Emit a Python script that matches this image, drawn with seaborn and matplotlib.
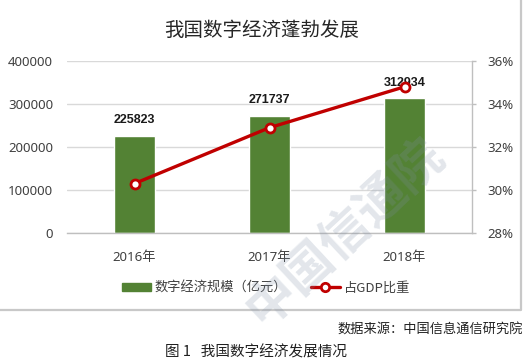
import matplotlib
matplotlib.use("Agg")
import matplotlib.pyplot as plt
import seaborn as sns
import pandas as pd
import numpy as np
from matplotlib.patches import Patch
from matplotlib.lines import Line2D

# ---- data ----
years = ["2016年", "2017年", "2018年"]
scale = [225823, 271737, 312934]          # 数字经济规模（亿元）
gdp_share = [30.3, 32.9, 34.8]            # 占GDP比重 (%)
left_ticks = [0, 100000, 200000, 300000, 400000]
right_ticks = [28, 30, 32, 34, 36]

title = "我国数字经济蓬勃发展"
bar_label = "数字经济规模（亿元）"
line_label = "占GDP比重"
source = "数据来源：中国信息通信研究院"
caption = "图 1   我国数字经济发展情况"
watermark = "中国信通院"

df = pd.DataFrame({"year": years, "scale": scale, "share": gdp_share})

sns.set_theme(style="white")
plt.rcParams["font.family"] = ["Noto Sans", "Noto Sans CJK SC", "DejaVu Sans"]
CJK = ["Noto Sans CJK SC", "DejaVu Sans"]

W, H = 532, 363
fig = plt.figure(figsize=(W / 100, H / 100), dpi=100)
fig.patch.set_facecolor("white")

def fx(x):
    return x / W

def fy(y):
    return 1 - y / H

ax = fig.add_axes([fx(67), fy(233), fx(472 - 67), (233 - 61) / H])

green = "#538234"
red = "#C00000"
grid = "#D9D9D9"
txt = "#404040"

sns.barplot(data=df, x="year", y="scale", ax=ax, color=green, width=0.31,
            saturation=1, zorder=2)
ax.set_ylim(0, 400000)
ax.set_yticks(left_ticks)
ax.set_yticklabels([str(v) for v in left_ticks])
ax.set_xlim(-0.5, 2.5)
ax.set_xlabel("")
ax.set_ylabel("")
ax.yaxis.grid(True, color=grid, linewidth=1, zorder=0)
ax.set_axisbelow(True)
for s in ["left", "top", "right"]:
    ax.spines[s].set_visible(False)
ax.spines["bottom"].set_color("#BFBFBF")
ax.spines["bottom"].set_linewidth(1)
ax.tick_params(axis="y", length=0, pad=10, labelsize=9.5, labelcolor=txt)
ax.tick_params(axis="x", length=0, pad=13, labelsize=9.5, labelcolor=txt)
for lab in ax.get_xticklabels():
    lab.set_fontfamily(["Noto Sans", "Noto Sans CJK SC"])

# value labels
for cont in ax.containers:
    ax.bar_label(cont, labels=[str(v) for v in scale], padding=7,
                 fontsize=9, fontweight="bold", color="#1A1A1A",
                 family=["Liberation Sans", "DejaVu Sans"])

# line on secondary axis
ax2 = ax.twinx()
sns.pointplot(data=df, x="year", y="share", ax=ax2, color=red,
              markers="o", linestyles="-", linewidth=2.4,
              markersize=6.5, markerfacecolor="white", markeredgecolor=red,
              markeredgewidth=2, errorbar=None, zorder=5)
ax2.set_ylim(28, 36)
ax2.set_yticks(right_ticks)
ax2.set_yticklabels([f"{v}%" for v in right_ticks])
ax2.set_xlim(-0.5, 2.5)
ax2.set_ylabel("")
ax2.set_xlabel("")
for s in ["left", "top", "bottom"]:
    ax2.spines[s].set_visible(False)
ax2.spines["right"].set_visible(True)
ax2.spines["right"].set_color("#BFBFBF")
ax2.spines["right"].set_linewidth(1)
ax2.tick_params(axis="y", direction="out", length=3, width=1, color="#BFBFBF",
                pad=8, labelsize=9.5, labelcolor=txt, right=True)

# title
fig.text(fx(262), fy(30), title, fontsize=14, ha="center", va="center",
         color="#262626", family=CJK)

# legend
handles = [Patch(facecolor=green, edgecolor=green),
           Line2D([0], [0], color=red, linewidth=2.4, marker="o", markersize=6,
                  markerfacecolor="white", markeredgecolor=red, markeredgewidth=2)]
leg = fig.legend(handles, [bar_label, line_label], loc="center",
                 bbox_to_anchor=(fx(266), fy(288)), ncol=2, frameon=False,
                 prop={"family": CJK, "size": 9.5}, handlelength=2.2,
                 handleheight=0.5, handletextpad=0.3, columnspacing=1.8)
for t in leg.get_texts():
    t.set_color(txt)

# chart frame (right and bottom border)
fig.add_artist(Line2D([fx(0), fx(521), fx(521)], [fy(310), fy(310), fy(0)],
                      color="#C8C8C8", linewidth=1.6, transform=fig.transFigure))

# source and caption
fig.text(fx(523), fy(330), source, fontsize=9.5, ha="right", va="center",
         color="#202020", family=CJK)
fig.text(fx(165), fy(352), caption, fontsize=10.5, ha="left", va="center",
         color="#202020", family=CJK)

# watermark
fig.text(fx(345), fy(232), watermark, fontsize=36, ha="center", va="center",
         rotation=43, color="#7F8FA6", alpha=0.22, fontweight="bold",
         family=CJK, zorder=10)

fig.savefig("out.png", dpi=100, facecolor="white")
